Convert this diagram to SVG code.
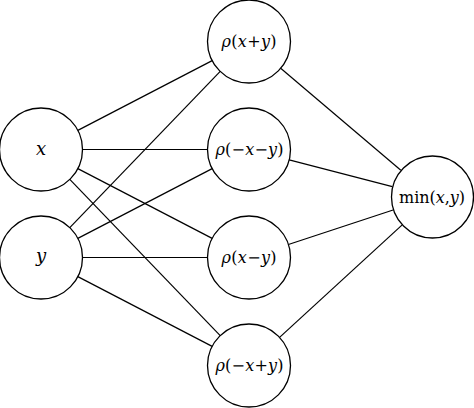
<svg xmlns="http://www.w3.org/2000/svg" width="474" height="408" viewBox="0 0 474 408">
<style>
.node{fill:#fff;stroke:#000;stroke-width:1.3}
.edge{stroke:#000;stroke-width:1.2;fill:none}
.lbl{font-family:"DejaVu Serif","Liberation Serif",serif;font-size:16px;text-anchor:middle;fill:#000}
.big{font-size:18px}
.i{font-style:italic}
</style>
<rect width="474" height="408" fill="#fff"/>
<g id="connectors">
<line class="edge" x1="77.83" y1="130.38" x2="212.17" y2="60.62"/>
<line class="edge" x1="82.5" y1="149.5" x2="207.5" y2="149.5"/>
<line class="edge" x1="77.83" y1="168.62" x2="212.17" y2="238.38"/>
<line class="edge" x1="69.79" y1="179.39" x2="220.21" y2="335.61"/>
<line class="edge" x1="69.79" y1="227.61" x2="220.21" y2="71.39"/>
<line class="edge" x1="77.83" y1="238.38" x2="212.17" y2="168.62"/>
<line class="edge" x1="82.5" y1="257.5" x2="207.5" y2="257.5"/>
<line class="edge" x1="77.83" y1="276.62" x2="212.17" y2="346.38"/>
<line class="edge" x1="280.66" y1="68.33" x2="400.84" y2="170.17"/>
<line class="edge" x1="289.18" y1="159.9" x2="392.32" y2="186.6"/>
<line class="edge" x1="288.41" y1="244.51" x2="393.09" y2="209.99"/>
<line class="edge" x1="279.57" y1="337.43" x2="401.93" y2="225.07"/>
</g>
<g id="in_x">
<circle class="node" cx="41" cy="149.5" r="41.5"/>
<text class="lbl big i" x="41" y="155">x</text>
</g>
<g id="in_y">
<circle class="node" cx="41" cy="257.5" r="41.5"/>
<text class="lbl big i" x="41" y="262">y</text>
</g>
<g id="h1">
<circle class="node" cx="249" cy="41.5" r="41.5"/>
<text class="lbl" x="249" y="47" textLength="55" lengthAdjust="spacing"><tspan class="i">ρ</tspan>(<tspan class="i">x</tspan>+<tspan class="i">y</tspan>)</text>
</g>
<g id="h2">
<circle class="node" cx="249" cy="149.5" r="41.5"/>
<text class="lbl" x="249.5" y="155" textLength="68" lengthAdjust="spacing"><tspan class="i">ρ</tspan>(−<tspan class="i">x</tspan>−<tspan class="i">y</tspan>)</text>
</g>
<g id="h3">
<circle class="node" cx="249" cy="257.5" r="41.5"/>
<text class="lbl" x="249" y="263" textLength="55" lengthAdjust="spacing"><tspan class="i">ρ</tspan>(<tspan class="i">x</tspan>−<tspan class="i">y</tspan>)</text>
</g>
<g id="h4">
<circle class="node" cx="249" cy="365.5" r="41.5"/>
<text class="lbl" x="249.5" y="371" textLength="68" lengthAdjust="spacing"><tspan class="i">ρ</tspan>(−<tspan class="i">x</tspan>+<tspan class="i">y</tspan>)</text>
</g>
<g id="out">
<circle class="node" cx="432.5" cy="197" r="41"/>
<text class="lbl" x="432" y="203" textLength="66" lengthAdjust="spacing">min(<tspan class="i">x</tspan>,<tspan class="i">y</tspan>)</text>
</g>
</svg>
